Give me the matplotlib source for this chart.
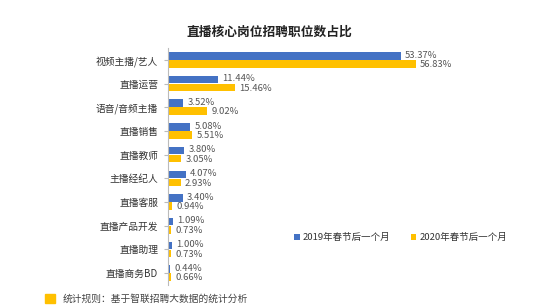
import matplotlib.pyplot as plt
import numpy as np

plt.rcParams['font.family'] = ['Noto Sans CJK SC', 'DejaVu Sans']

categories = ["视频主播/艺人", "直播运营", "语音/音频主播", "直播销售", "直播教师",
              "主播经纪人", "直播客服", "直播产品开发", "直播助理", "直播商务BD"]
share_2019 = [53.37, 11.44, 3.52, 5.08, 3.80, 4.07, 3.40, 1.09, 1.00, 0.44]
share_2020 = [56.83, 15.46, 9.02, 5.51, 3.05, 2.93, 0.94, 0.73, 0.73, 0.66]
series_names = ["2019年春节后一个月", "2020年春节后一个月"]

blue = "#4472C4"
yellow = "#FFC000"

fig = plt.figure(figsize=(5.45, 3.08), dpi=100)
ax = fig.add_axes([0.308, 0.075, 0.56, 0.769])

y = np.arange(len(categories))
h = 0.32
ax.barh(y - 0.17, share_2019, height=h, color=blue, label=series_names[0])
ax.barh(y + 0.17, share_2020, height=h, color=yellow, label=series_names[1])

for yi, v in zip(y, share_2019):
    ax.text(v + 1.0, yi - 0.2, f"{v:.2f}%", va="center", ha="left", fontsize=6.8, color="#555555")
for yi, v in zip(y, share_2020):
    ax.text(v + 1.0, yi + 0.2, f"{v:.2f}%", va="center", ha="left", fontsize=6.8, color="#555555")

ax.set_ylim(len(categories) - 0.5, -0.5)
ax.set_xlim(0, 70)
ax.set_yticks(y)
ax.set_yticklabels(categories, fontsize=7, color="#333333")
ax.set_xticks([])
ax.tick_params(axis="y", length=3, color="#bbbbbb", pad=4)
for s in ["top", "right", "bottom"]:
    ax.spines[s].set_visible(False)
ax.spines["left"].set_color("#bbbbbb")

fig.text(0.495, 0.895, "直播核心岗位招聘职位数占比", ha="center", va="center",
         fontsize=9.2, fontweight="bold", color="#222222")

ax.legend(loc="center left", bbox_to_anchor=(0.385, 0.2), ncol=2, frameon=False,
          fontsize=6.8, handlelength=0.6, handleheight=0.6, handletextpad=0.3,
          columnspacing=2.2, labelcolor="#333333")

fig.patches.append(plt.Rectangle((0.083, 0.015), 0.018, 0.03, color=yellow,
                                 transform=fig.transFigure, figure=fig))
fig.text(0.115, 0.03, "统计规则：基于智联招聘大数据的统计分析", ha="left", va="center",
         fontsize=7, color="#444444")

fig.savefig("out.png", dpi=100)
